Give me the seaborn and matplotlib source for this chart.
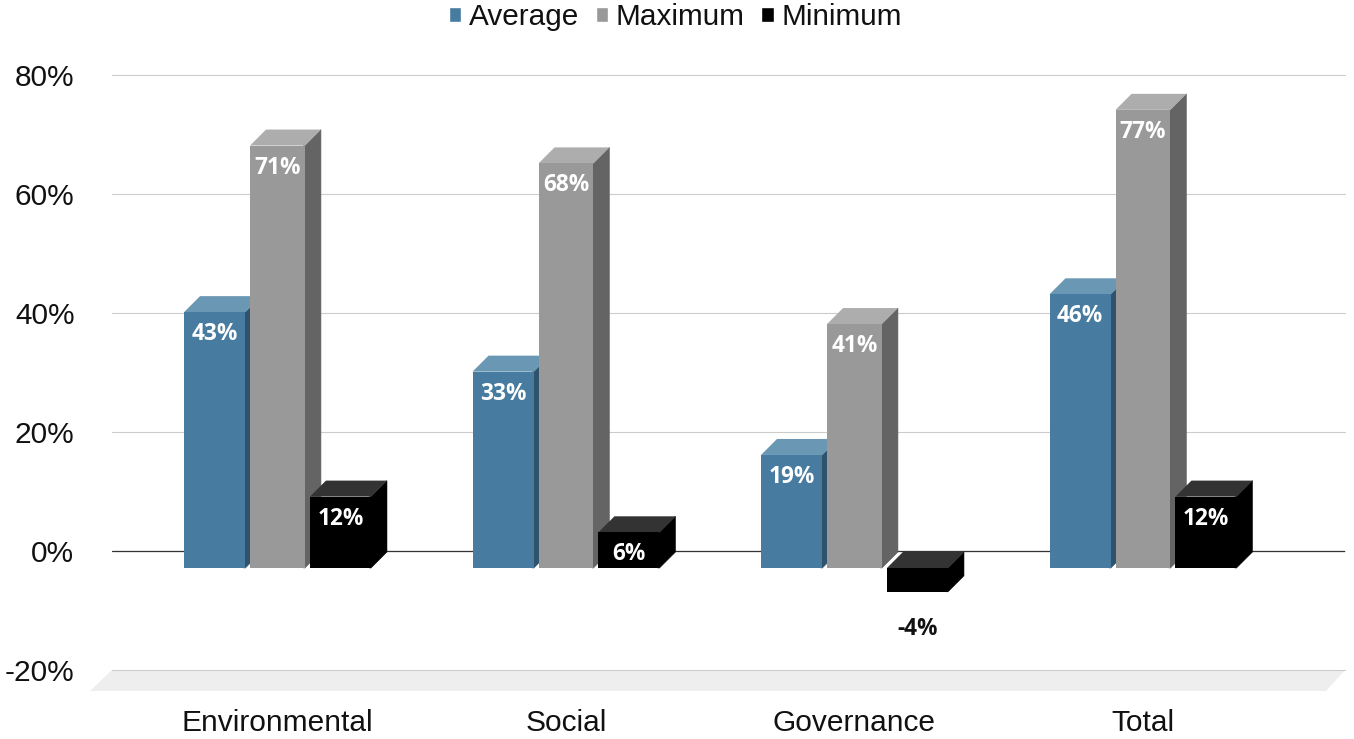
import matplotlib
matplotlib.use("Agg")
import matplotlib.pyplot as plt
from matplotlib.patches import Polygon
from matplotlib.ticker import PercentFormatter
import pandas as pd
import seaborn as sns

# ---- data ----
categories = ["Environmental", "Social", "Governance", "Total"]
series_names = ["Average", "Maximum", "Minimum"]
average = [43, 33, 19, 46]
maximum = [71, 68, 41, 77]
minimum = [12, 6, -4, 12]
y_ticks = [-20, 0, 20, 40, 60, 80]

# ---- styles ----
W, H = 1354, 739
front_col = {"Average": "#477BA0", "Maximum": "#999999", "Minimum": "#000000"}
top_col = {"Average": "#6A97B3", "Maximum": "#ADADAD", "Minimum": "#333333"}
side_col = {"Average": "#2F536D", "Maximum": "#646464", "Minimum": "#000000"}
trim_px = {"Average": (0, 1), "Maximum": (3.7, 3.7), "Minimum": (1.3, 0)}
DEPTH = 16
SHIFT = 17
AX_L, AX_R, AX_T, AX_B = 112, 1345, 75, 670
UNIT_X = 288.5
CENTER0 = 277.5
LABEL_FS = 21.5

sns.set_theme(style="white")
plt.rcParams["font.family"] = ["Liberation Sans", "DejaVu Sans"]
plt.rcParams["axes.unicode_minus"] = False

df = pd.DataFrame({
    "Category": categories * 3,
    "Series": [s for s in series_names for _ in categories],
    "Value": average + maximum + minimum,
})

fig = plt.figure(figsize=(W / 100, H / 100), dpi=100, facecolor="white")


def rect(shift=0):
    return [AX_L / W, 1 - (AX_B + shift) / H, (AX_R - AX_L) / W, (AX_B - AX_T) / H]


xlim = ((AX_L - CENTER0) / UNIT_X, (AX_R - CENTER0) / UNIT_X)
ylim = (min(y_ticks), max(y_ticks))

# back wall: grid, zero line, floor
back = fig.add_axes(rect())
back.set_xlim(xlim)
back.set_ylim(ylim)
back.set_yticks(y_ticks)
back.yaxis.set_major_formatter(PercentFormatter(decimals=0))
back.set_xticks([])
back.yaxis.grid(True, color="#CCCCCC", lw=0.8, clip_on=False)
back.set_axisbelow(True)
back.axhline(0, color="#333333", lw=0.9, zorder=1.5)
back.tick_params(axis="y", length=0, pad=27, labelsize=LABEL_FS, labelcolor="#111111")
sns.despine(ax=back, left=True, bottom=True)
floor_px = [(AX_L, 670), (AX_R, 670), (1326, 691), (90, 691)]
back.add_patch(Polygon([(x / W, 1 - y / H) for x, y in floor_px], closed=True,
                       transform=fig.transFigure, facecolor="#EEEEEE",
                       edgecolor="none", clip_on=False, zorder=0.5))

# front plane: the bars
ax = fig.add_axes(rect(SHIFT))
ax.patch.set_alpha(0)
sns.barplot(data=df, x="Category", y="Value", hue="Series", order=categories,
            hue_order=series_names, palette=front_col, width=0.648, gap=0,
            saturation=1, errorbar=None, ax=ax)
ax.set_xlim(xlim)
ax.set_ylim(ylim)
ax.set_xlabel("")
ax.set_ylabel("")
ax.set_yticks([])
ax.tick_params(axis="x", length=0, pad=16, labelsize=LABEL_FS, labelcolor="#111111")
sns.despine(ax=ax, left=True, bottom=True)

px_y = (AX_B - AX_T) / (ylim[1] - ylim[0])
dx, dy = DEPTH / UNIT_X, DEPTH / px_y
seam = 1.5 / UNIT_X  # side face tucks under the front face, so no light seam shows

for i, (name, container) in enumerate(zip(series_names, ax.containers)):
    tl, tr = trim_px[name]
    z = 3 + i
    for bar in container:
        x0 = bar.get_x() + tl / UNIT_X
        x1 = bar.get_x() + bar.get_width() - tr / UNIT_X
        bar.set_x(x0)
        bar.set_width(x1 - x0)
        bar.set_linewidth(0)
        bar.set_zorder(z + 0.2)
        bar.set_clip_on(False)
        value = bar.get_y() + bar.get_height()
        hi, lo = max(value, 0), min(value, 0)
        ax.add_patch(Polygon([(x1 - seam, lo), (x1, lo), (x1 + dx, lo + dy), (x1 + dx, hi + dy),
                              (x1, hi), (x1 - seam, hi)],
                             closed=True, facecolor=side_col[name], edgecolor=side_col[name],
                             lw=0.4, clip_on=False, zorder=z))
        ax.add_patch(Polygon([(x0, hi), (x0 + dx, hi + dy), (x1 + dx, hi + dy), (x1, hi)],
                             closed=True, facecolor=top_col[name], edgecolor="none",
                             clip_on=False, zorder=z + 0.1))
        centre = (x0 + x1) / 2
        inside = value >= 0
        ax.annotate(f"{value:.0f}%", (centre, value),
                    xytext=(0, (-22 if inside else -37) * 0.72),
                    textcoords="offset points", ha="center", va="center",
                    color="white" if inside else "#111111", fontweight="bold",
                    family="Open Sans", fontsize=16.3, zorder=10, annotation_clip=False)

sns.move_legend(ax, "center", bbox_to_anchor=(675.5 / W, 1 - 17 / H),
                bbox_transform=fig.transFigure, ncol=3, frameon=False, title=None,
                fontsize=21.4, labelcolor="#111111", handlelength=0.42,
                handleheight=0.42, handletextpad=0.26, columnspacing=0.55,
                borderpad=0, borderaxespad=0)

fig.savefig("out.png", dpi=100, facecolor="white")
